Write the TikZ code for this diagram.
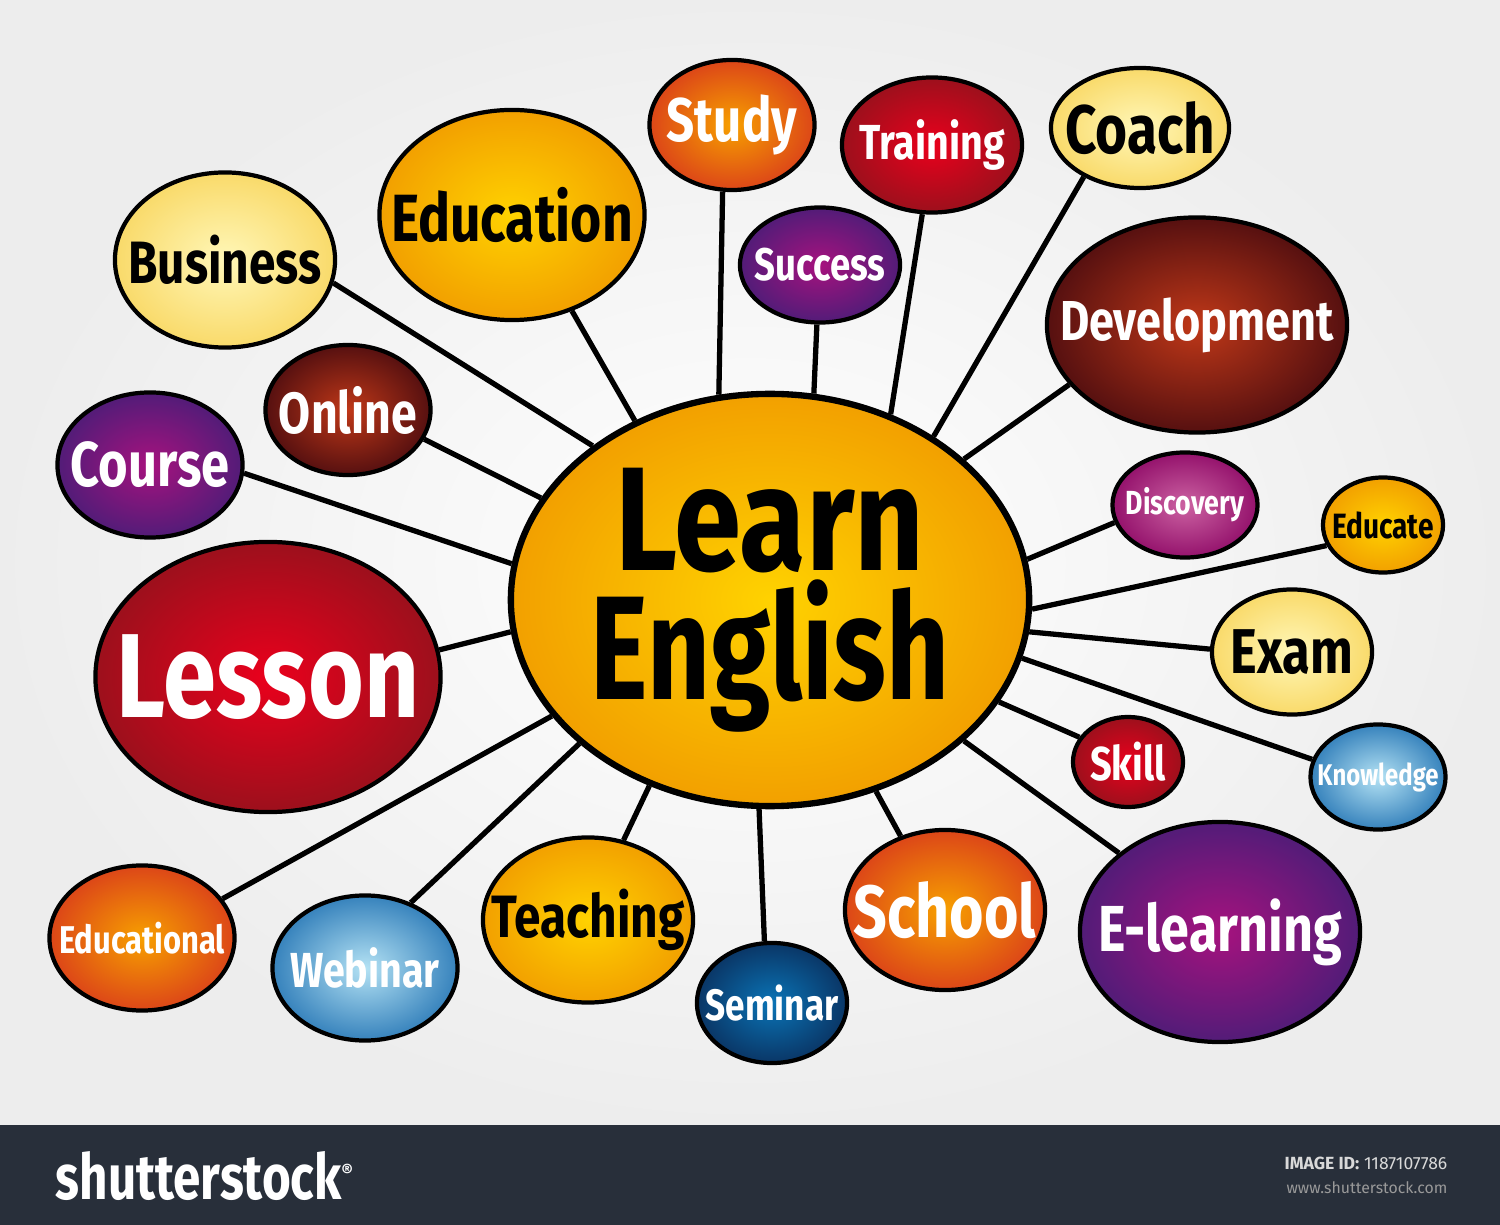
\documentclass[tikz,border=0pt]{standalone}
\usepackage{fontspec}
\setmainfont{Fira Sans}
\usetikzlibrary{shapes.geometric}

\definecolor{paleIn}{HTML}{FFF7B8}
\definecolor{paleOut}{HTML}{F9DA6A}
\definecolor{goldIn}{HTML}{FFD200}
\definecolor{goldOut}{HTML}{F2A000}
\definecolor{orangeIn}{HTML}{F7A000}
\definecolor{orangeOut}{HTML}{DC4618}
\definecolor{redIn}{HTML}{EA001C}
\definecolor{redOut}{HTML}{9C101C}
\definecolor{purpleIn}{HTML}{A6127E}
\definecolor{purpleOut}{HTML}{521C78}
\definecolor{pinkIn}{HTML}{CC62A2}
\definecolor{pinkOut}{HTML}{94126C}
\definecolor{maroonIn}{HTML}{C03818}
\definecolor{maroonOut}{HTML}{561010}
\definecolor{skyIn}{HTML}{B4E2F4}
\definecolor{skyOut}{HTML}{3682BC}
\definecolor{navyIn}{HTML}{0A74B6}
\definecolor{navyOut}{HTML}{0A3666}
\definecolor{barGray}{HTML}{282F3A}

% narrow hand lettering, kept out of the bubble size
\newcommand{\nar}[2][0.8]{\makebox[0pt]{\scalebox{#1}[1]{#2}}}

\tikzset{
  bubble/.style={ellipse, draw=black, line width=1.2pt, inner sep=0pt, align=center},
  wh/.style 2 args={minimum width=#1cm, minimum height=#2cm},
  fs/.style={font=\fontsize{#1}{#1}\selectfont\bfseries},
  pale/.style={bubble, inner color=paleIn, outer color=paleOut, text=black},
  gold/.style={bubble, inner color=goldIn, outer color=goldOut, text=black},
  orng/.style={bubble, inner color=orangeIn, outer color=orangeOut, text=white},
  redb/.style={bubble, inner color=redIn, outer color=redOut, text=white},
  purp/.style={bubble, inner color=purpleIn, outer color=purpleOut, text=white},
  pink/.style={bubble, inner color=pinkIn, outer color=pinkOut, text=white},
  marn/.style={bubble, inner color=maroonIn, outer color=maroonOut, text=white},
  sky/.style={bubble, inner color=skyIn, outer color=skyOut, text=white},
  navy/.style={bubble, inner color=navyIn, outer color=navyOut, text=white},
  link/.style={line width=1.5pt}
}

\begin{document}
\begin{tikzpicture}[x=0.01cm,y=-0.01cm]
	\useasboundingbox (0,0) rectangle (1500,1225);
	% background - must be drawn before the rest!
	\shade[inner color=white, outer color=black!7] (0,0) rectangle (1500,1125);
	% the centre
	\node[gold, wh={5.18}{4.12}, line width=1.8pt, font=\fontsize{42}{30}\selectfont\bfseries] (learn) at (770,600) {\nar[0.82]{Learn}\\[1pt]\nar[0.74]{English}};
	% top row
	\node[pale, wh={2.20}{1.75}, fs=17] (business) at (225,260) {\nar{Business}};
	\node[gold, wh={2.65}{2.10}, fs=19] (education) at (512,215) {\nar{Education}};
	\node[orng, wh={1.65}{1.30}, fs=17.5] (study) at (732,125) {\nar{Study}};
	\node[redb, wh={1.80}{1.35}, fs=14] (training) at (932,145) {\nar{Training}};
	\node[pale, wh={1.78}{1.20}, fs=19.5] (coach) at (1140,128) {\nar{Coach}};
	\node[purp, wh={1.60}{1.15}, fs=13] (success) at (820,265) {\nar{Success}};
	\node[marn, wh={3.00}{2.15}, fs=16] (development) at (1197,325) {\nar{Development}};
	% left side
	\node[marn, wh={1.65}{1.30}, fs=16.5] (online) at (348,410) {\nar{Online}};
	\node[purp, wh={1.85}{1.45}, fs=18] (course) at (150,465) {\nar{Course}};
	\node[redb, wh={3.45}{2.70}, fs=34] (lesson) at (268,677) {\nar{Lesson}};
	% right side
	\node[pink, wh={1.45}{1.05}, fs=9.5] (discovery) at (1185,505) {\nar{Discovery}};
	\node[gold, wh={1.20}{0.95}, fs=10] (educate) at (1383,525) {\nar{Educate}};
	\node[pale, wh={1.60}{1.25}, fs=18] (exam) at (1292,652) {\nar{Exam}};
	\node[redb, wh={1.10}{0.90}, fs=13.5] (skill) at (1128,762) {\nar{Skill}};
	\node[sky, wh={1.35}{1.05}, fs=8.5] (knowledge) at (1378,777) {\nar{Knowledge}};
	% bottom row
	\node[purp, wh={2.80}{2.20}, fs=18.5] (elearning) at (1220,932) {\nar{E-learning}};
	\node[orng, wh={2.00}{1.60}, fs=21] (school) at (945,910) {\nar{School}};
	\node[navy, wh={1.50}{1.20}, fs=12.5] (seminar) at (772,1003) {\nar{Seminar}};
	\node[gold, wh={2.10}{1.65}, fs=17] (teaching) at (588,920) {\nar{Teaching}};
	\node[sky, wh={1.85}{1.45}, fs=14] (webinar) at (365,968) {\nar{Webinar}};
	\node[orng, wh={1.85}{1.45}, fs=11] (educational) at (142,938) {\nar{Educational}};
	% connectors
	\draw[link] (learn.139) -- (business.-12);
	\draw[link] (learn.127) -- (education.-58);
	\draw[link] (learn.104) -- (study.-98);
	\draw[link] (learn.78) -- (success.-93);
	\draw[link] (learn.57) -- (training.-98);
	\draw[link] (learn.45) -- (coach.-139);
	\draw[link] (learn.36) -- (development.-155);
	\draw[link] (learn.9) -- (discovery.-166);
	\draw[link] (learn.-2) -- (educate.-160);
	\draw[link] (learn.-7) -- (exam.178);
	\draw[link] (learn.-13) -- (knowledge.165);
	\draw[link] (learn.-24) -- (skill.153);
	\draw[link] (learn.-36) -- (elearning.142);
	\draw[link] (learn.-61) -- (school.121);
	\draw[link] (learn.-93) -- (seminar.97);
	\draw[link] (learn.-123) -- (teaching.66);
	\draw[link] (learn.-143) -- (webinar.55);
	\draw[link] (learn.-152) -- (educational.26);
	\draw[link] (learn.-173) -- (lesson.9);
	\draw[link] (learn.172) -- (course.-5);
	\draw[link] (learn.156) -- (online.-21);
	% footer bar
	\fill[barGray] (0,1125) rectangle (1500,1225);
	\node[anchor=west, text=white, font=\fontsize{18}{18}\selectfont\bfseries, inner sep=0pt] (logo) at (55,1176) {\scalebox{0.78}[1]{shutterstock}\textsuperscript{\tiny\textregistered}};
	\node[anchor=east, text=black!15, font=\fontsize{5}{5}\selectfont, inner sep=0pt] (imageid) at (1448,1163) {\textbf{IMAGE ID:} 1187107786};
	\node[anchor=east, text=black!40, font=\fontsize{4.5}{5}\selectfont, inner sep=0pt] (site) at (1448,1188) {www.shutterstock.com};
\end{tikzpicture}
\end{document}
